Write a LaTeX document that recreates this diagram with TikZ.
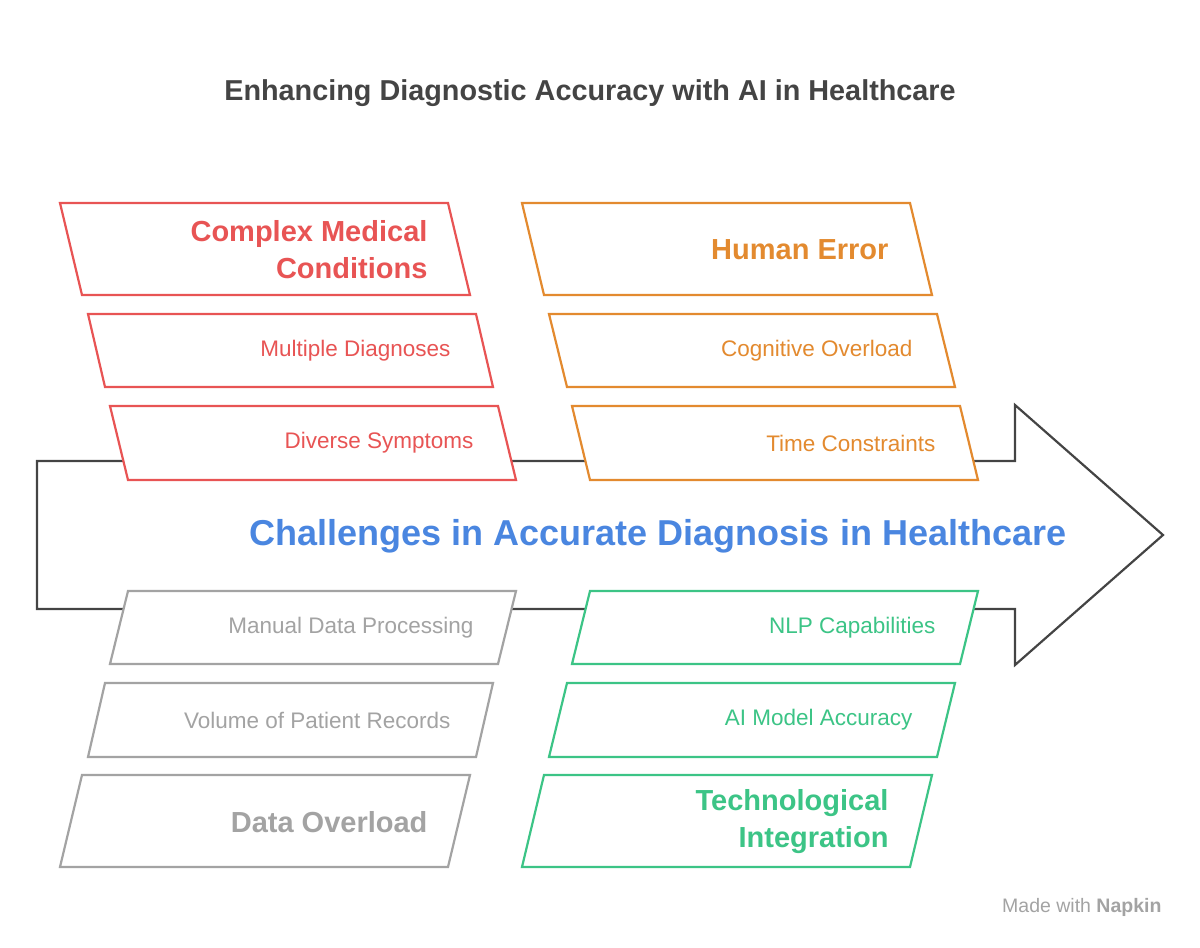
\documentclass[tikz,border=0pt]{standalone}
\usepackage{fontspec}
\setmainfont{Liberation Sans}
\usetikzlibrary{positioning}
\definecolor{cred}{HTML}{E85454}
\definecolor{corange}{HTML}{E38A2F}
\definecolor{cgrey}{HTML}{A3A3A3}
\definecolor{cgreen}{HTML}{3CC486}
\definecolor{cblue}{HTML}{4A86E0}
\definecolor{cdark}{HTML}{444444}
% parallelogram: top-left x, top y, bottom y, shift of bottom edge, colour
\newcommand{\slab}[5]{%
  \draw[slab,draw=#5] (#1,#2) -- ++(388,0) -- ++(#4,#3-#2) -- ++(-388,0) -- cycle;}
\begin{document}
\begin{tikzpicture}
[x=1pt,y=-1pt,
  slab/.style = {fill=white,line width=2.2pt,line join=miter},
  big/.style = {font=\fontsize{29}{37}\selectfont\bfseries,align=right,anchor=east},
  small/.style = {font=\fontsize{22.5}{26}\selectfont,anchor=east}]
\useasboundingbox (0,0) rectangle (1200,948);

\node[font=\fontsize{28.8}{34}\selectfont\bfseries,text=cdark] (title) at (590,93) {Enhancing Diagnostic Accuracy with AI in Healthcare};

% big arrow
\draw[cdark,line width=2.2pt,line join=miter] (37,461) -- (1015,461) -- (1015,405) -- (1163,535)
   -- (1015,665) -- (1015,609) -- (37,609) -- cycle;

% top group
\slab{60}{203}{295}{22}{cred}
\slab{88}{314}{387}{17}{cred}
\slab{110}{406}{480}{18}{cred}
\slab{522}{203}{295}{22}{corange}
\slab{549}{314}{387}{18}{corange}
\slab{572}{406}{480}{18}{corange}
% bottom group
\slab{128}{591}{664}{-18}{cgrey}
\slab{105}{683}{757}{-17}{cgrey}
\slab{82}{775}{867}{-22}{cgrey}
\slab{590}{591}{664}{-18}{cgreen}
\slab{567}{683}{757}{-18}{cgreen}
\slab{544}{775}{867}{-22}{cgreen}

\node[big,text=cred] (complex) at (431,250) {Complex Medical\\Conditions};
\node[small,text=cred] (multiple) at (454,351) {Multiple Diagnoses};
\node[small,text=cred] (diverse) at (477,443) {Diverse Symptoms};
\node[big,text=corange] (human) at (892,250) {Human Error};
\node[small,text=corange] (cognitive) at (916,351) {Cognitive Overload};
\node[small,text=corange] (time) at (939,443) {Time Constraints};

\node[font=\fontsize{36}{42}\selectfont\bfseries,text=cblue] (challenges) at (658,536) {Challenges in Accurate Diagnosis in Healthcare};

\node[small,text=cgrey] (manual) at (477,628) {Manual Data Processing};
\node[small,text=cgrey] (volume) at (454,720) {Volume of Patient Records};
\node[big,text=cgrey] (overload) at (431,822) {Data Overload};
\node[small,text=cgreen] (nlp) at (939,628) {NLP Capabilities};
\node[small,text=cgreen] (model) at (916,720) {AI Model Accuracy};
\node[big,text=cgreen] (integration) at (892,822) {Technological\\Integration};

\node[font=\fontsize{19.5}{23}\selectfont,text=cgrey,anchor=east] (napkin) at (1165,907) {Made with \textbf{Napkin}};
\end{tikzpicture}
\end{document}
